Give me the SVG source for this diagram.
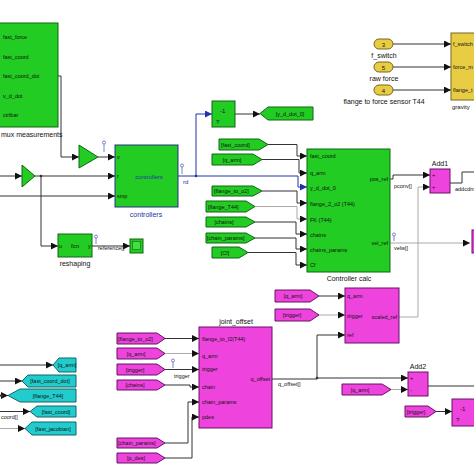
<svg xmlns="http://www.w3.org/2000/svg" width="474" height="474" viewBox="0 0 474 474">
<defs>
<marker id="ar" viewBox="0 0 8 8" refX="8" refY="4" markerWidth="7" markerHeight="7" markerUnits="userSpaceOnUse" orient="auto"><path d="M0,0 L8,4 L0,8 Z" fill="#111"/></marker>
<marker id="arb" viewBox="0 0 8 8" refX="8" refY="4" markerWidth="7" markerHeight="7" markerUnits="userSpaceOnUse" orient="auto"><path d="M0,0 L8,4 L0,8 Z" fill="#2233aa"/></marker>
<style>
text{font-family:"Liberation Sans",Arial,sans-serif;fill:#111}
.g{fill:#22cc22;stroke:#116611;stroke-width:1}
.m{fill:#ee44dd;stroke:#661166;stroke-width:1}
.c{fill:#22cccc;stroke:#116666;stroke-width:1}
.y{fill:#e8cc44;stroke:#776622;stroke-width:1}
.p{font-size:5.5px}
.t{font-size:6px}
.cap{font-size:7px;text-anchor:middle}
.w{fill:none;stroke:#333;stroke-width:1;marker-end:url(#ar)}
.wl{fill:none;stroke:#aaa;stroke-width:1;marker-end:url(#ar)}
.wn{fill:none;stroke:#333;stroke-width:1}
.wb{fill:none;stroke:#2233aa;stroke-width:1}
.wba{fill:none;stroke:#2233aa;stroke-width:1;marker-end:url(#arb)}
.tp{fill:none;stroke:#5566bb;stroke-width:0.8}
</style>
</defs>
<rect width="474" height="474" fill="#fff"/>

<g id="connectors">
<path class="w" d="M58,76 H61 V157 H79"/>
<path class="w" d="M98,157 H115"/>
<path class="w" d="M0,176 H22"/>
<path class="w" d="M35,176 H115"/>
<path class="w" d="M41,176 V246 H58"/>
<path class="w" d="M0,196 H115"/>
<path class="w" d="M92,246 H130"/>
<path class="wb" d="M178,176 H298 V180"/>
<path class="wba" d="M298,180 V187 H307"/>
<path class="wba" d="M196,176 V114 H212"/>
<path class="w" d="M235,114 H260"/>
<path class="w" d="M268,144.5 H297 V156 H307"/>
<path class="w" d="M262,159.5 H299 V173 H307"/>
<path class="w" d="M262,191 H297 V203 H307"/>
<path class="wl" d="M255,206.5 H297 V219 H307"/>
<path class="w" d="M255,222 H296 V234 H307"/>
<path class="w" d="M255,238 H296 V249 H307"/>
<path class="w" d="M248,252.5 H296 V265 H307"/>
<path class="w" d="M390,179 H393 V175 H430"/>
<path class="wl" d="M390,243 H470"/>
<path class="wn" d="M450,183 H462 V172 H474"/>
<path class="w" d="M393,44 H451"/>
<path class="w" d="M393,67 H451"/>
<path class="w" d="M393,90 H451"/>
<path class="w" d="M165,338.5 H199"/>
<path class="wl" d="M165,353.5 H199"/>
<path class="w" d="M165,369.5 H199"/>
<path class="w" d="M165,385 H190 V387 H199"/>
<path class="w" d="M165,443 H188 V402 H199"/>
<path class="w" d="M165,458 H192 V417 H199"/>
<path class="wn" d="M272,379 H317"/>
<path class="w" d="M317,378 V335 H345"/>
<path class="w" d="M317,378 H408"/>
<path class="w" d="M319,296 H345"/>
<path class="wl" d="M319,315 H345"/>
<path class="wl" d="M399,317 H418 V187 H430"/>
<path class="wl" d="M391,389.5 H408"/>
<path class="wn" d="M428,386 H474"/>
<path class="w" d="M436,411.5 H452"/>
<path class="w" d="M0,365 H53"/>
<path class="w" d="M0,381 H22"/>
<path class="w" d="M0,395.5 H8"/>
<path class="w" d="M0,411.5 H30"/>
<path class="wl" d="M0,428.5 H25"/>
<circle cx="41" cy="176" r="1.3" fill="#333"/>
<circle cx="196" cy="176" r="1.3" fill="#2233aa"/>
<circle cx="317" cy="378" r="1.3" fill="#333"/>
<circle cx="1.5" cy="395.5" r="1.5" fill="#333"/>
<path class="tp" d="M104,152 V144"/><circle cx="104" cy="142.5" r="1.5" fill="#fff" stroke="#5566bb" stroke-width="0.8"/>
<path class="tp" d="M182,174 V167"/><circle cx="182" cy="165.5" r="1.5" fill="#fff" stroke="#5566bb" stroke-width="0.8"/>
<path class="tp" d="M96,244 V238"/><circle cx="96" cy="236.5" r="1.5" fill="#fff" stroke="#5566bb" stroke-width="0.8"/>
<path class="tp" d="M394,241 V236"/><circle cx="394" cy="234.5" r="1.5" fill="#fff" stroke="#5566bb" stroke-width="0.8"/>
<path class="tp" d="M173,368 V362"/><circle cx="173" cy="360.5" r="1.5" fill="#fff" stroke="#5566bb" stroke-width="0.8"/>
<text class="t" x="183" y="184" style="fill:#2233aa">rd</text>
<text class="p" x="98" y="250">reference[]</text>
<text class="p" x="394" y="188">pconv[]</text>
<text class="p" x="394" y="250">velw[]</text>
<text class="p" x="455" y="191">addcdm</text>
<text class="p" x="174" y="378">trigger</text>
<text class="p" x="278" y="386">q_offset[]</text>
<text class="p" x="1" y="419">coord[]</text>
</g>

<g id="mux_measurements">
<rect class="g" x="-1" y="23" width="59" height="104"/>
<text class="p" x="3" y="39">fast_force</text>
<text class="p" x="3" y="59">fast_coord</text>
<text class="p" x="3" y="78">fast_coord_dot</text>
<text class="p" x="3" y="98">v_d_dot</text>
<text class="p" x="3" y="117">ctrlbar</text>
<text class="cap" x="1" y="137" style="text-anchor:start">mux measurements</text>
</g>

<g id="gain1"><path class="g" d="M79,145 L79,168 L98,157 Z"/></g>
<g id="gain2"><path class="g" d="M22,165 L22,187 L35,176 Z"/></g>

<g id="controllers">
<rect class="g" x="115" y="145" width="63" height="62" style="stroke:#223388"/>
<text class="p" x="117" y="159">v</text>
<text class="p" x="117" y="178">r</text>
<text class="p" x="117" y="198">smp</text>
<text class="t" x="149" y="179" style="text-anchor:middle;fill:#2233aa">controllers</text>
<text class="cap" x="146" y="217" style="fill:#2233aa">controllers</text>
</g>

<g id="reshaping">
<rect class="g" x="58" y="234" width="34" height="23"/>
<text class="p" x="59" y="248">u</text>
<text class="t" x="75" y="248" style="text-anchor:middle">fcn</text>
<text class="p" x="88" y="248">y</text>
<text class="cap" x="75" y="266">reshaping</text>
</g>

<g id="scope">
<rect class="g" x="130" y="239" width="13" height="14"/>
<rect x="132.5" y="241.5" width="8" height="8" fill="#44dd44" stroke="#116611" stroke-width="0.6"/>
</g>

<g id="gain_top">
<rect class="g" x="212" y="101" width="23" height="26"/>
<text class="t" x="220" y="113">-1</text>
<text class="t" x="216" y="124">?</text>
</g>

<g id="goto_y_d_dot_0">
<path class="g" d="M260,113.5 L268,107 H313 V120 H268 Z"/>
<text class="p" x="290" y="116" style="text-anchor:middle">[y_d_dot_0]</text>
</g>

<g id="from_fast_coord"><path class="g" d="M219,139 H259 L268,144.5 L259,150 H219 Z"/><text class="p" x="221" y="147">[fast_coord]</text></g>
<g id="from_q_arm"><path class="g" d="M212,154 H253 L262,159.5 L253,165 H212 Z"/><text class="p" x="232" y="162" style="text-anchor:middle">[q_arm]</text></g>
<g id="from_flange_to_o2"><path class="g" d="M212,186 H253 L262,191 L253,196 H212 Z"/><text class="p" x="214" y="193">[flange_to_o2]</text></g>
<g id="from_flange_T44"><path class="g" d="M206,201 H246 L255,206.5 L246,212 H206 Z"/><text class="p" x="208" y="209">[flange_T44]</text></g>
<g id="from_chains"><path class="g" d="M206,217 H246 L255,222 L246,227 H206 Z"/><text class="p" x="224" y="224" style="text-anchor:middle">[chains]</text></g>
<g id="from_chain_params"><path class="g" d="M206,233 H246 L255,238 L246,243 H206 Z"/><text class="p" x="207" y="240">[chain_params]</text></g>
<g id="from_Cf"><path class="g" d="M212,247 H239 L248,252.5 L239,258 H212 Z"/><text class="p" x="225" y="255" style="text-anchor:middle">[Cf]</text></g>

<g id="controller_calc">
<rect class="g" x="307" y="149" width="83" height="123"/>
<text class="p" x="310" y="158">fast_coord</text>
<text class="p" x="310" y="175">q_arm</text>
<text class="p" x="310" y="190">y_d_dot_0</text>
<text class="p" x="310" y="206">flange_2_o2 (T44)</text>
<text class="p" x="310" y="222">FK (T44)</text>
<text class="p" x="310" y="237">chains</text>
<text class="p" x="310" y="252">chains_params</text>
<text class="p" x="310" y="267">Cf</text>
<text class="p" x="388" y="181" style="text-anchor:end">pos_ref</text>
<text class="p" x="388" y="245" style="text-anchor:end">vel_ref</text>
<text class="cap" x="349" y="281">Controller calc</text>
</g>

<g id="inport3"><rect class="y" x="374" y="39" width="19" height="10" rx="5"/><text class="t" x="383.5" y="46.5" style="text-anchor:middle">3</text><text class="cap" x="384" y="58">f_switch</text></g>
<g id="inport5"><rect class="y" x="374" y="62" width="19" height="10" rx="5"/><text class="t" x="383.5" y="69.5" style="text-anchor:middle">5</text><text class="cap" x="384" y="81">raw force</text></g>
<g id="inport4"><rect class="y" x="374" y="85" width="19" height="10" rx="5"/><text class="t" x="383.5" y="92.5" style="text-anchor:middle">4</text><text class="cap" x="384" y="104">flange to force sensor T44</text></g>

<g id="gravity">
<rect class="y" x="451" y="33" width="26" height="67"/>
<text class="p" x="453" y="46">f_switch</text>
<text class="p" x="453" y="69">force_m</text>
<text class="p" x="453" y="92">flange_t</text>
<text class="t" x="452" y="109">gravity</text>
</g>

<g id="add1">
<rect class="m" x="430" y="169" width="20" height="24"/>
<text class="p" x="432" y="177">+</text>
<text class="p" x="432" y="189">+</text>
<text class="cap" x="440" y="166">Add1</text>
</g>

<g id="vel_block"><rect class="m" x="472" y="230" width="6" height="23"/></g>

<g id="joint_offset">
<rect class="m" x="199" y="327" width="73" height="101"/>
<text class="cap" x="236" y="324">joint_offset</text>
<text class="p" x="202" y="341">flange_to_f2(T44)</text>
<text class="p" x="202" y="358">q_arm</text>
<text class="p" x="202" y="371">trigger</text>
<text class="p" x="202" y="389">chain</text>
<text class="p" x="202" y="404">chain_params</text>
<text class="p" x="202" y="419">pdes</text>
<text class="p" x="270" y="381" style="text-anchor:end">q_offset</text>
</g>

<g id="from_m_flange_to_o2"><path class="m" d="M117,333 H157 L165,338.5 L157,344 H117 Z"/><text class="p" x="118" y="341">[flange_to_o2]</text></g>
<g id="from_m_q_arm"><path class="m" d="M117,348 H157 L165,353.5 L157,359 H117 Z"/><text class="p" x="136" y="356" style="text-anchor:middle">[q_arm]</text></g>
<g id="from_m_trigger"><path class="m" d="M117,364 H157 L165,369.5 L157,375 H117 Z"/><text class="p" x="135" y="372" style="text-anchor:middle">[trigger]</text></g>
<g id="from_m_chains"><path class="m" d="M117,380 H157 L165,385 L157,390 H117 Z"/><text class="p" x="135" y="387" style="text-anchor:middle">[chains]</text></g>
<g id="from_m_chain_params"><path class="m" d="M117,438 H157 L165,443 L157,448 H117 Z"/><text class="p" x="118" y="445">[chain_params]</text></g>
<g id="from_m_p_des"><path class="m" d="M117,453 H157 L165,458 L157,463 H117 Z"/><text class="p" x="136" y="460" style="text-anchor:middle">[p_des]</text></g>

<g id="from_m_q_arm2"><path class="m" d="M275,290 H310 L319,296 L310,302 H275 Z"/><text class="p" x="293" y="298" style="text-anchor:middle">[q_arm]</text></g>
<g id="from_m_trigger2"><path class="m" d="M275,309 H310 L319,315 L310,321 H275 Z"/><text class="p" x="292" y="317" style="text-anchor:middle">[trigger]</text></g>

<g id="scale_block">
<rect class="m" x="345" y="288" width="54" height="55"/>
<text class="p" x="347" y="298">q_arm</text>
<text class="p" x="347" y="318">trigger</text>
<text class="p" x="347" y="337">ref</text>
<text class="p" x="397" y="319" style="text-anchor:end">scaled_ref</text>
</g>

<g id="add2">
<rect class="m" x="408" y="372" width="20" height="24"/>
<text class="p" x="410" y="380">+</text>
<text class="p" x="410" y="392">-</text>
<text class="cap" x="418" y="369">Add2</text>
</g>

<g id="from_m_q_arm3"><path class="m" d="M342,384 H382 L391,389.5 L382,395 H342 Z"/><text class="p" x="360" y="392" style="text-anchor:middle">[q_arm]</text></g>
<g id="from_m_trigger3"><path class="m" d="M405,406 H428 L436,411.5 L428,417 H405 Z"/><text class="p" x="416" y="414" style="text-anchor:middle">[trigger]</text></g>

<g id="gain_bottom">
<rect class="m" x="452" y="399" width="25" height="27"/>
<text class="t" x="460" y="411">-1</text>
<text class="t" x="456" y="422">?</text>
</g>

<g id="goto_q_arm"><path class="c" d="M53,365 L59,358 H76 V372 H59 Z"/><text class="p" x="67" y="367" style="text-anchor:middle">[q_arm]</text></g>
<g id="goto_fast_coord_dot"><path class="c" d="M22,381 L28,375 H76 V387 H28 Z"/><text class="p" x="50" y="383" style="text-anchor:middle">[fast_coord_dot]</text></g>
<g id="goto_flange_T44"><path class="c" d="M8,395.5 L20,389 H76 V402 H20 Z"/><text class="p" x="48" y="398" style="text-anchor:middle">[flange_T44]</text></g>
<g id="goto_fast_coord"><path class="c" d="M30,411.5 L37,406 H76 V417 H37 Z"/><text class="p" x="56" y="414" style="text-anchor:middle">[fast_coord]</text></g>
<g id="goto_fast_jacobian"><path class="c" d="M25,428.5 L32,422 H76 V435 H32 Z"/><text class="p" x="53" y="431" style="text-anchor:middle">[fast_jacobian]</text></g>
</svg>
